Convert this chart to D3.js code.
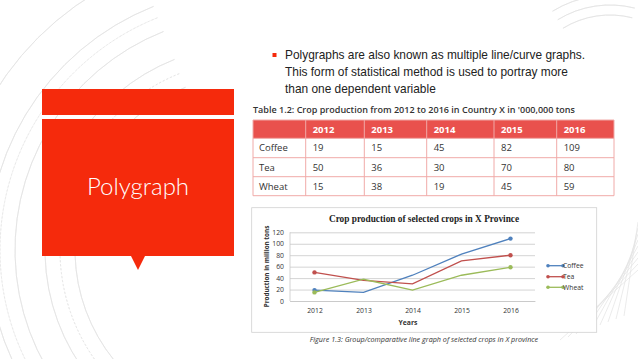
<!DOCTYPE html>
<html><head><meta charset="utf-8">
<script src="https://cdn.jsdelivr.net/npm/d3@7"></script>
<style>html,body{margin:0;padding:0;background:#fff;overflow:hidden}</style>
</head><body>
<svg id="s" width="638" height="359"></svg>
<script>
const years = ["2012","2013","2014","2015","2016"];
const crops = ["Coffee","Tea","Wheat"];
const coffee = [19,15,45,82,109];
const tea = [50,36,30,70,80];
const wheat = [15,38,19,45,59];
const yTicks = [0,20,40,60,80,100,120];
const seriesColors = ["#4f81bd","#c0504d","#9bbb59"];
const seriesValues = [coffee, tea, wheat];

const svg = d3.select("#s");

// background decorative arcs
const deco = svg.append("g").attr("fill","none").attr("stroke","#e3e3e3").attr("stroke-width",0.7);
[175,190,205,235,250,262,300].forEach((r,i)=>{
  deco.append("path").attr("d", d3.arc()({innerRadius:r,outerRadius:r,startAngle:-Math.PI*0.95,endAngle:-Math.PI*0.12}))
    .attr("transform","translate(250,250)").attr("stroke-dasharray", i%3===1?"2,2":null);
});
[90,100,110].forEach(r=>{
  deco.append("path").attr("d", d3.arc()({innerRadius:r,outerRadius:r,startAngle:-0.55,endAngle:0.25}))
    .attr("transform","translate(610,105)");
});
for(let i=0;i<9;i++){
  deco.append("line").attr("x1",560+i*8).attr("y1",340-i*3).attr("x2",638).attr("y2",270-i*8+ i*2);
}

// left red panel
svg.append("rect").attr("x",42).attr("y",89).attr("width",192).attr("height",26).attr("fill","#f52a0c");
svg.append("rect").attr("x",42).attr("y",119).attr("width",192).attr("height",137).attr("fill","#f52a0c");
svg.append("path").attr("d","M131,256 L145,256 L138,270 Z").attr("fill","#f52a0c");
svg.append("text").attr("x",138).attr("y",195).attr("text-anchor","middle")
  .attr("font-family","Lato, 'Open Sans', sans-serif").attr("font-weight",300).attr("font-size",24)
  .attr("fill","#fff").text("Polygraph");

// bullet text
svg.append("rect").attr("x",272.5).attr("y",53).attr("width",4).attr("height",4).attr("fill","#f52a0c");
const lines = ["Polygraphs are also known as multiple line/curve graphs.",
  "This form of statistical method is used to portray more",
  "than one dependent variable"];
lines.forEach((t,i)=>{
  svg.append("text").attr("x",285).attr("y",59+i*17).attr("font-family","'Liberation Sans', Arial, sans-serif")
    .attr("font-size",11.9).attr("fill","#222").text(t);
});

// table
const tf = "'Open Sans', 'Noto Sans', sans-serif";
svg.append("text").attr("x",253).attr("y",113).attr("font-family",tf).attr("font-size",9.3)
  .attr("font-weight",600).attr("fill","#333").attr("textLength",322).attr("lengthAdjust","spacingAndGlyphs")
  .text("Table 1.2: Crop production from 2012 to 2016 in Country X in '000,000 tons");
const colX = [253,305.7,364.3,426.7,494,556.7,614];
const rowY = [120,138.3,157.7,176.7,195.7];
svg.append("rect").attr("x",colX[0]).attr("y",rowY[0]).attr("width",colX[6]-colX[0]).attr("height",rowY[1]-rowY[0]).attr("fill","#e9514d");
const tb = svg.append("g");
rowY.slice(1).forEach(y=>tb.append("line").attr("x1",colX[0]).attr("x2",colX[6]).attr("y1",y).attr("y2",y));
colX.forEach(x=>tb.append("line").attr("x1",x).attr("x2",x).attr("y1",rowY[0]).attr("y2",rowY[4]));
tb.append("line").attr("x1",colX[0]).attr("x2",colX[6]).attr("y1",rowY[0]).attr("y2",rowY[0]);
tb.selectAll("line").attr("stroke","#f0aaa8").attr("stroke-width",1);
years.forEach((yr,i)=>{
  svg.append("text").attr("x",colX[i+1]+7).attr("y",rowY[0]+12.5).attr("font-family",tf).attr("font-size",9.5)
    .attr("font-weight",700).attr("fill","#fff").text(yr);
});
crops.forEach((c,r)=>{
  svg.append("text").attr("x",colX[0]+6).attr("y",rowY[r+1]+13).attr("font-family",tf).attr("font-size",9.5).attr("fill","#333").text(c);
  seriesValues[r].forEach((v,i)=>{
    svg.append("text").attr("x",colX[i+1]+7).attr("y",rowY[r+1]+13).attr("font-family",tf).attr("font-size",9.5).attr("fill","#333").text(v);
  });
});

// chart frame
svg.append("rect").attr("x",251.7).attr("y",207.7).attr("width",345).attr("height",124.6)
  .attr("fill","#fff").attr("stroke","#d0d0d0").attr("stroke-width",0.8);
svg.append("text").attr("x",424).attr("y",221.5).attr("text-anchor","middle")
  .attr("font-family","'Liberation Serif', 'Times New Roman', serif").attr("font-weight",700).attr("font-size",9.3)
  .attr("fill","#222").text("Crop production of selected crops in X Province");

const x = d3.scalePoint().domain(years).range([290,535]).padding(0.5);
const y = d3.scaleLinear().domain([0,120]).range([301,232.3]);
const cf = "'Open Sans', 'Noto Sans', sans-serif";

const gy = svg.append("g").attr("transform","translate(290,0)")
  .call(d3.axisLeft(y).tickValues(yTicks).tickSize(-245).tickPadding(6));
gy.select(".domain").remove();
gy.selectAll(".tick line").attr("stroke","#c8c8c8").attr("stroke-width",0.8);
gy.selectAll(".tick text").attr("font-family",cf).attr("font-size",6.8).attr("fill","#333");
svg.append("line").attr("x1",290).attr("x2",290).attr("y1",232.3).attr("y2",301).attr("stroke","#c8c8c8").attr("stroke-width",0.8);

const gx = svg.append("g").attr("transform","translate(0,301)")
  .call(d3.axisBottom(x).tickSize(0).tickPadding(7));
gx.select(".domain").attr("stroke","#c8c8c8").attr("stroke-width",0.8);
gx.selectAll(".tick text").attr("font-family",cf).attr("font-size",6.8).attr("fill","#333");

svg.append("text").attr("x",408).attr("y",324.5).attr("text-anchor","middle").attr("font-family",cf)
  .attr("font-size",6.8).attr("font-weight",700).attr("fill","#333").text("Years");
svg.append("text").attr("transform","translate(269,266.5) rotate(-90)").attr("text-anchor","middle")
  .attr("font-family",cf).attr("font-size",6.3).attr("font-weight",700).attr("fill","#333")
  .text("Production in million tons");

const line = d3.line().x((d,i)=>x(years[i])).y(d=>y(d));
seriesValues.forEach((vals,k)=>{
  svg.append("path").datum(vals).attr("d",line).attr("fill","none").attr("stroke",seriesColors[k]).attr("stroke-width",1.3);
  [0,vals.length-1].forEach(i=>{
    svg.append("circle").attr("cx",x(years[i])).attr("cy",y(vals[i])).attr("r",2.2).attr("fill",seriesColors[k]);
  });
});

// legend
const legY = [265.7,276.7,287.3];
crops.forEach((c,k)=>{
  svg.append("line").attr("x1",547).attr("x2",563).attr("y1",legY[k]).attr("y2",legY[k]).attr("stroke",seriesColors[k]).attr("stroke-width",1.3);
  svg.append("circle").attr("cx",548).attr("cy",legY[k]).attr("r",1.8).attr("fill",seriesColors[k]);
  svg.append("circle").attr("cx",563).attr("cy",legY[k]).attr("r",1.8).attr("fill",seriesColors[k]);
  svg.append("text").attr("x",563).attr("y",legY[k]+2.4).attr("font-family",cf).attr("font-size",6.8).attr("fill","#333").text(c);
});

svg.append("text").attr("x",424).attr("y",342).attr("text-anchor","middle").attr("font-family",cf)
  .attr("font-style","italic").attr("font-size",7.2).attr("fill","#333")
  .text("Figure 1.3: Group/comparative line graph of selected crops in X province");
</script>
</body></html>
